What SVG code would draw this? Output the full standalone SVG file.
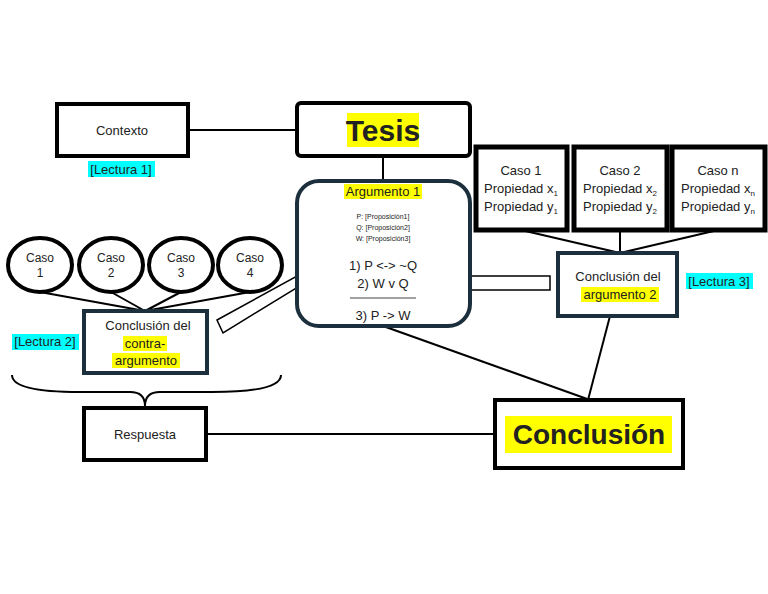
<svg xmlns="http://www.w3.org/2000/svg" width="768" height="594" viewBox="0 0 768 594">
<style>
text{font-family:"Liberation Sans",Arial,sans-serif;fill:#222;text-anchor:middle}
.b{fill:#fff;stroke:#000;stroke-width:4}
.n{fill:#fff;stroke:#1c2f3c;stroke-width:4}
.c{fill:#fff;stroke:#000;stroke-width:5}
.l{stroke:#000;stroke-width:2;fill:none}
.y{fill:#ffff00}
.cy{fill:#00ffff}
.ar{fill:#fff;stroke:#000;stroke-width:1.5}
</style>
<rect width="768" height="594" fill="#fff"/>
<g id="connectors">
<line class="l" x1="188" y1="130" x2="297" y2="130"/>
<line class="l" x1="383" y1="156" x2="383" y2="181"/>
<path class="l" d="M521 230 L620 253 M620 230 L620 253 M718 230 L620 253"/>
<path class="l" d="M40 292 L145 311 M111 292 L145 311 M181 292 L145 311 M250 292 L145 311"/>
<path class="l" d="M12 375 Q12 392 80 392 L130 392 Q145 392 145 406 Q145 392 160 392 L212 392 Q281 392 281 375"/>
<line class="l" x1="206" y1="434" x2="495" y2="434"/>
<line class="l" x1="383" y1="326" x2="590" y2="400"/>
<line class="l" x1="610" y1="316" x2="588" y2="400"/>
<polygon class="ar" points="550,276 440,276 440,266 416,283 440,300 440,290 550,290"/>
<polygon class="ar" points="217,320 321,263 316,254 343,258 328,280 324,271 223,333"/>
</g>
<g id="contexto"><rect class="b" x="57" y="104" width="131" height="52"/><text x="122" y="135" font-size="13">Contexto</text>
<rect class="cy" x="88" y="161" width="67" height="16"/><text x="121" y="174" font-size="13">[Lectura 1]</text></g>
<g id="tesis"><rect class="b" x="297" y="103" width="173" height="53" rx="4"/><rect class="y" x="347" y="113" width="72" height="34"/><text x="383" y="141" font-size="30" font-weight="bold" fill="#000">Tesis</text></g>
<g id="argumento1"><rect class="n" x="297" y="181" width="173" height="145" rx="22"/>
<rect class="y" x="344" y="184" width="78" height="15"/><text x="383" y="196" font-size="13">Argumento 1</text>
<text x="383" y="219" font-size="7" fill="#666">P: [Proposición1]</text>
<text x="383" y="230" font-size="7" fill="#666">Q: [Proposición2]</text>
<text x="383" y="241" font-size="7" fill="#666">W: [Proposición3]</text>
<text x="383" y="270" font-size="13">1) P &lt;-&gt; ~Q</text>
<text x="383" y="288" font-size="13">2) W v Q</text>
<line x1="350" y1="298" x2="416" y2="298" stroke="#444" stroke-width="1"/>
<text x="383" y="320" font-size="13">3) P -&gt; W</text></g>
<g id="caso1"><rect class="c" x="476" y="147" width="91" height="83"/><text x="521" y="175" font-size="13">Caso 1</text><text x="521" y="193" font-size="13">Propiedad x<tspan font-size="8" dy="3">1</tspan></text><text x="521" y="211" font-size="13">Propiedad y<tspan font-size="8" dy="3">1</tspan></text></g>
<g id="caso2"><rect class="c" x="574" y="147" width="93" height="83"/><text x="620" y="175" font-size="13">Caso 2</text><text x="620" y="193" font-size="13">Propiedad x<tspan font-size="8" dy="3">2</tspan></text><text x="620" y="211" font-size="13">Propiedad y<tspan font-size="8" dy="3">2</tspan></text></g>
<g id="cason"><rect class="c" x="672" y="147" width="93" height="83"/><text x="718" y="175" font-size="13">Caso n</text><text x="718" y="193" font-size="13">Propiedad x<tspan font-size="8" dy="3">n</tspan></text><text x="718" y="211" font-size="13">Propiedad y<tspan font-size="8" dy="3">n</tspan></text></g>
<g id="conclusion-arg2"><rect class="n" x="558" y="253" width="119" height="63"/><text x="618" y="281" font-size="13">Conclusión del</text>
<rect class="y" x="581" y="287" width="78" height="15"/><text x="620" y="299" font-size="13">argumento 2</text>
<rect class="cy" x="686" y="273" width="67" height="16"/><text x="719" y="286" font-size="13">[Lectura 3]</text></g>
<g id="casos-izq">
<ellipse class="b" cx="40" cy="265" rx="32" ry="27"/><text x="40" y="262" font-size="12">Caso</text><text x="40" y="277" font-size="12">1</text>
<ellipse class="b" cx="111" cy="265" rx="32" ry="27"/><text x="111" y="262" font-size="12">Caso</text><text x="111" y="277" font-size="12">2</text>
<ellipse class="b" cx="181" cy="265" rx="32" ry="27"/><text x="181" y="262" font-size="12">Caso</text><text x="181" y="277" font-size="12">3</text>
<ellipse class="b" cx="250" cy="265" rx="32" ry="27"/><text x="250" y="262" font-size="12">Caso</text><text x="250" y="277" font-size="12">4</text></g>
<g id="conclusion-contra"><rect class="n" x="84" y="311" width="123" height="62"/><text x="148" y="330" font-size="13">Conclusión del</text>
<rect class="y" x="123" y="336" width="44" height="15"/><text x="145" y="348" font-size="13">contra-</text>
<rect class="y" x="112" y="353" width="68" height="15"/><text x="146" y="365" font-size="13">argumento</text>
<rect class="cy" x="12" y="334" width="67" height="16"/><text x="45" y="346" font-size="13">[Lectura 2]</text></g>
<g id="respuesta"><rect class="b" x="84" y="408" width="122" height="52"/><text x="145" y="439" font-size="13">Respuesta</text></g>
<g id="conclusion"><rect class="b" x="495" y="400" width="188" height="68"/><rect class="y" x="505" y="416" width="167" height="37"/><text x="589" y="444" font-size="28" font-weight="bold" fill="#000">Conclusión</text></g>
</svg>
